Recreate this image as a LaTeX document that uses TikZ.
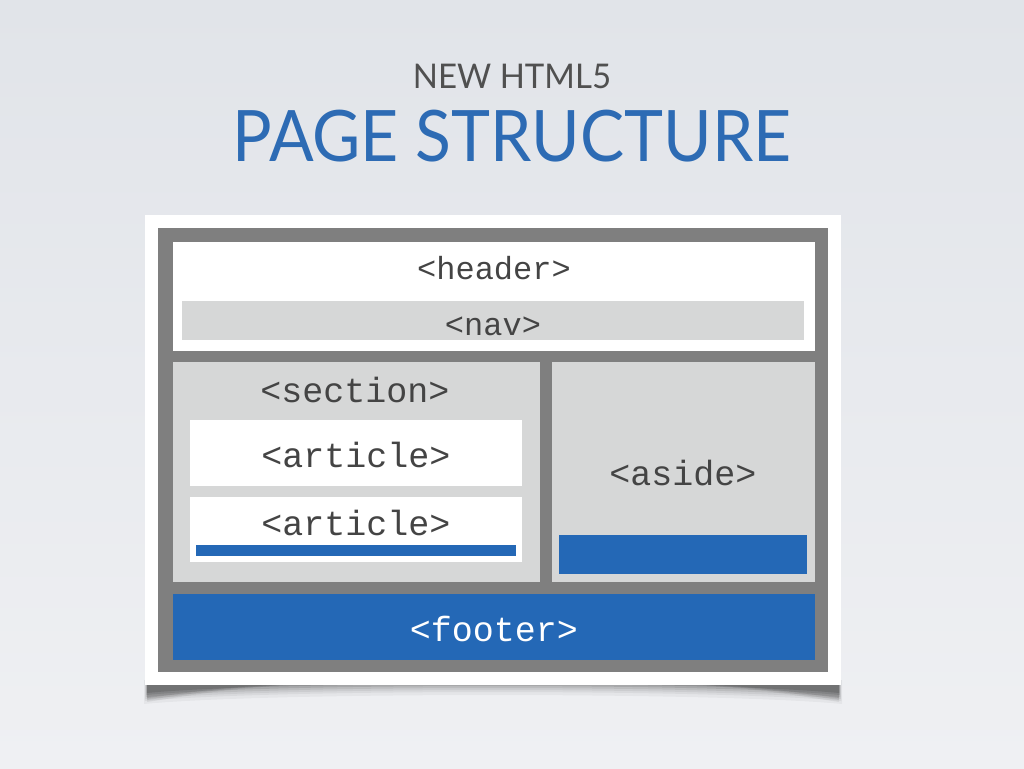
\documentclass[tikz,border=0pt]{standalone}
\usepackage{fontspec}
\setmainfont{Lato}
\newfontfamily\monofont{Liberation Mono}
\usetikzlibrary{fit}
\definecolor{bgtop}{HTML}{E1E4E9}
\definecolor{bgbot}{HTML}{EFF0F3}
\definecolor{framegray}{HTML}{7F7F7F}
\definecolor{lightgray}{HTML}{D6D7D7}
\definecolor{boxblue}{HTML}{2468B6}
\definecolor{titleblue}{HTML}{2D6BB4}
\definecolor{subgray}{HTML}{505050}
\definecolor{codegray}{HTML}{444444}
\tikzset{
  area/.style={rectangle, inner sep=0pt, draw=none},
  code/.style={font=\monofont\fontsize{35}{35}\selectfont, text=codegray, inner sep=0pt},
  smallcode/.style={font=\monofont\fontsize{32}{32}\selectfont, text=codegray, inner sep=0pt},
}
\begin{document}
\begin{tikzpicture}[x=1pt,y=-1pt]
\useasboundingbox (0,0) rectangle (1024,768);
\shade[top color=bgtop, bottom color=bgbot] (0,0) rectangle (1024,768);
% shadow of card
\foreach \o/\a in {12/0.04,9/0.05,7/0.06,5/0.08,3/0.10,1/0.12}{
  \fill[black, opacity=\a] (147-\o*0.25,680) -- (839+\o*0.25,680) -- (839+\o*0.25,692+\o) .. controls (720,680+\o) and (265,680+\o) .. (147-\o*0.25,692+\o) -- cycle;
}
\foreach \o/\a in {6/0.06,4/0.08,2/0.10}{
  \fill[black, opacity=\a] (147,684) -- (300,684) .. controls (230,686+\o*0.5) .. (147,696+\o) -- cycle;
  \fill[black, opacity=\a] (839,684) -- (686,684) .. controls (756,686+\o*0.5) .. (839,696+\o) -- cycle;
}
\node[area, fill=white, fit={(145,215) (841,685)}] (card) {};
\node[area, fill=framegray, fit={(158,228) (828,672)}] (frame) {};
\node[area, fill=white, fit={(173,242) (815,351)}] (header) {};
\node[area, fill=lightgray, fit={(182,301) (804,340)}] (nav) {};
\node[area, fill=lightgray, fit={(173,362) (540,582)}] (section) {};
\node[area, fill=lightgray, fit={(552,362) (815,582)}] (aside) {};
\node[area, fill=white, fit={(190,420) (522,486)}] (article1) {};
\node[area, fill=white, fit={(190,497) (522,562)}] (article2) {};
\node[area, fill=boxblue, fit={(196,545) (516,556)}] (artbar) {};
\node[area, fill=boxblue, fit={(559,535) (807,574)}] (asidebar) {};
\node[area, fill=boxblue, fit={(173,594) (815,660)}] (footer) {};
% titles
\node[font=\fontsize{34}{34}\selectfont, text=subgray, inner sep=0pt, xscale=0.97] (sub) at (512,76) {NEW HTML5};
\node[font=\fontsize{71}{71}\selectfont, text=titleblue, inner sep=0pt, xscale=0.93] (title) at (512,136) {PAGE STRUCTURE};
% labels
\node[smallcode] (lheader) at (494,268) {<header>};
\node[smallcode] (lnav) at (493,326) {<nav>};
\node[code] (lsection) at (355,390) {<section>};
\node[code] (larticle1) at (356,455) {<article>};
\node[code] (larticle2) at (356,523) {<article>};
\node[code] (laside) at (683,473) {<aside>};
\node[code, text=white] (lfooter) at (494,629) {<footer>};
\end{tikzpicture}
\end{document}
